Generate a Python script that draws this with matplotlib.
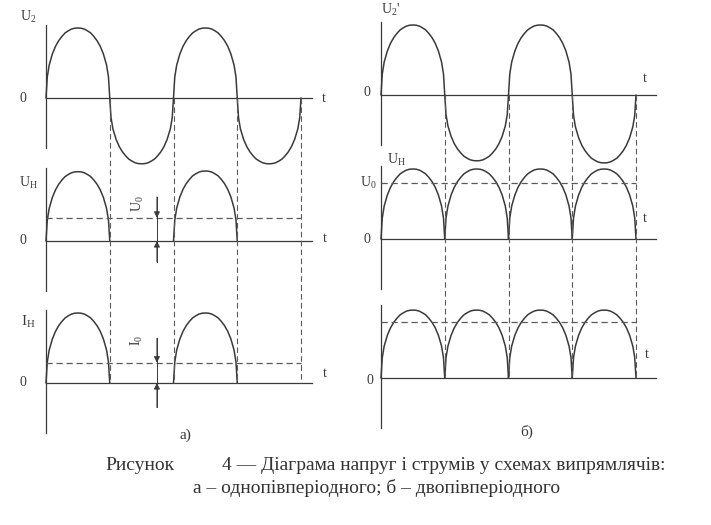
import numpy as np
import matplotlib.pyplot as plt

plt.rcParams['font.family'] = ['Liberation Serif', 'DejaVu Serif']
plt.rcParams['mathtext.fontset'] = 'custom'
plt.rcParams['mathtext.rm'] = 'Liberation Serif'
plt.rcParams['mathtext.it'] = 'Liberation Serif:italic'

# shape of one half-wave (position in half-period, height)
hump_t = [0, 0.02, 0.05, 0.1, 0.15, 0.2, 0.25, 0.3, 0.35, 0.4, 0.45, 0.5,
          0.55, 0.6, 0.65, 0.7, 0.75, 0.8, 0.85, 0.9, 0.95, 0.98, 1.0]
hump_v = [0, 0.30, 0.47, 0.63, 0.74, 0.82, 0.88, 0.93, 0.96, 0.985, 0.997, 1.0,
          0.997, 0.985, 0.96, 0.93, 0.88, 0.82, 0.74, 0.63, 0.47, 0.30, 0]

# half-wave amplitudes (0 = nothing, negative = below axis)
a_u2 = [1.0, -0.94, 1.0, -0.94]        # U2 (left)
a_uh = [0.99, 0, 1.0, 0]               # UH half-wave
a_ih = [1.0, 0, 1.0, 0]                # IH half-wave
b_u2 = [1.0, -0.94, 1.0, -0.97]        # U2' (right)
b_uh = [1.0, 1.0, 1.0, 1.0]            # UH full-wave
b_ih = [0.97, 0.97, 0.97, 0.97]        # IH full-wave

u0_a = 0.33
i0_a = 0.29
u0_b = 0.80
i0_b = 0.80

cap_word = "Рисунок"
caption1 = "4 — Діаграма напруг і струмів у схемах випрямлячів:"
caption2 = "а – однопівперіодного; б – двопівперіодного"

W, H = 711, 525
fig = plt.figure(figsize=(W / 100, H / 100), dpi=100)

lc = '#3a3a3a'
dc = '#5a5a5a'
px = 63.75   # pixels per half period
py = 70.0    # pixels per unit amplitude


def wave(ax, amps, off):
    for k, a in enumerate(amps):
        if a == 0:
            continue
        t = np.array(hump_t) + k
        v = np.array(hump_v) * a + off
        ax.plot(t, v, color=lc, lw=1.1, solid_capstyle='round')


def axes_row(ax, off, xend):
    ax.plot([0, 0], [off - 0.72, off + 1.05], color=lc, lw=0.9)
    ax.plot([0, xend], [off, off], color=lc, lw=0.9)


def arrow(ax, t, lo, hi, tail):
    ax.plot([t, t], [lo - tail, hi + tail], color=lc, lw=0.7)
    ax.annotate('', xy=(t, hi), xytext=(t, hi + tail),
                arrowprops=dict(arrowstyle='-|>', color=lc, lw=0.7,
                                mutation_scale=9, shrinkA=0, shrinkB=0))
    ax.annotate('', xy=(t, lo), xytext=(t, lo - tail),
                arrowprops=dict(arrowstyle='-|>', color=lc, lw=0.7,
                                mutation_scale=9, shrinkA=0, shrinkB=0))


fs = 10

# ---------- a) half-wave ----------
axL = fig.add_axes([0, (H - 450) / H, 355 / W, 450 / H])
axL.set_xlim(-46 / px, (355 - 46) / px)
axL.set_ylim((98 - 450) / py, 98 / py)
axL.axis('off')
offL = [0, (98 - 241) / py, (98 - 383) / py]

for off in offL:
    axes_row(axL, off, 4.18)
wave(axL, a_u2, offL[0])
wave(axL, a_uh, offL[1])
wave(axL, a_ih, offL[2])

for k in [1, 2, 3, 4]:
    axL.plot([k, k], [offL[0], offL[2]], color=dc, lw=0.8, dashes=(5, 3))
axL.plot([0, 4], [offL[1] + u0_a] * 2, color=dc, lw=0.9, dashes=(5, 3))
axL.plot([0, 4], [offL[2] + i0_a] * 2, color=dc, lw=0.9, dashes=(5, 3))

arrow(axL, 1.74, offL[1], offL[1] + u0_a, 0.3)
arrow(axL, 1.74, offL[2], offL[2] + i0_a, 0.35)

axL.text(-0.28, offL[0] + 1.16, r'$\mathrm{U_2}$', fontsize=fs, ha='center', va='center', color=lc)
axL.text(-0.28, offL[1] + 0.83, r'$\mathrm{U_Н}$', fontsize=fs, ha='center', va='center', color=lc)
axL.text(-0.28, offL[2] + 0.87, r'$\mathrm{I_Н}$', fontsize=fs + 1, ha='center', va='center', color=lc)
for off in offL:
    axL.text(-0.36, off, '0', fontsize=fs, ha='center', va='center', color=lc)
axL.text(4.35, offL[0], 't', fontsize=fs, ha='center', va='center', color=lc)
axL.text(4.38, offL[1] + 0.04, 't', fontsize=fs, ha='center', va='center', color=lc)
axL.text(4.38, offL[2] + 0.13, 't', fontsize=fs, ha='center', va='center', color=lc)
axL.text(1.44, offL[1] + 0.54, r'$\mathrm{U_0}$', fontsize=fs, rotation=90, ha='center', va='center', color=lc)
axL.text(1.43, offL[2] + 0.61, r'$\mathrm{I_0}$', fontsize=fs, rotation=90, ha='center', va='center', color=lc)
axL.text(2.18, offL[2] - 0.74, 'а)', fontsize=fs + 1, ha='center', va='center', color=lc)

# ---------- б) full-wave ----------
axR = fig.add_axes([355 / W, (H - 450) / H, (W - 355) / W, 450 / H])
axR.set_xlim((355 - 381) / px, (711 - 381) / px)
axR.set_ylim((95 - 450) / py, 95 / py)
axR.axis('off')
offR = [0, (95 - 239) / py, (95 - 378) / py]

for off in offR:
    axes_row(axR, off, 4.31)
wave(axR, b_u2, offR[0])
wave(axR, b_uh, offR[1])
wave(axR, b_ih, offR[2])

for k in [1, 2, 3, 4]:
    axR.plot([k, k], [offR[0], offR[2]], color=dc, lw=0.8, dashes=(5, 3))
axR.plot([0, 4], [offR[1] + u0_b] * 2, color=dc, lw=0.9, dashes=(5, 3))
axR.plot([0, 4], [offR[2] + i0_b] * 2, color=dc, lw=0.9, dashes=(5, 3))

axR.text(0.15, offR[0] + 1.21, r"$\mathrm{U_2}$'", fontsize=fs, ha='center', va='center', color=lc)
axR.text(0.25, offR[1] + 1.13, r'$\mathrm{U_Н}$', fontsize=fs, ha='center', va='center', color=lc)
axR.text(-0.2, offR[1] + 0.80, r'$\mathrm{U_0}$', fontsize=fs, ha='center', va='center', color=lc)
axR.text(-0.22, offR[0] + 0.03, '0', fontsize=fs, ha='center', va='center', color=lc)
axR.text(-0.22, offR[1] - 0.01, '0', fontsize=fs, ha='center', va='center', color=lc)
axR.text(-0.17, offR[2] - 0.03, '0', fontsize=fs, ha='center', va='center', color=lc)
axR.text(4.14, offR[0] + 0.24, 't', fontsize=fs, ha='center', va='center', color=lc)
axR.text(4.14, offR[1] + 0.30, 't', fontsize=fs, ha='center', va='center', color=lc)
axR.text(4.17, offR[2] + 0.33, 't', fontsize=fs, ha='center', va='center', color=lc)
axR.text(2.29, offR[2] - 0.77, 'б)', fontsize=fs + 1, ha='center', va='center', color=lc)

# caption
fig.text(105 / W, 1 - 466 / H, cap_word, fontsize=14, ha='left', va='center', color='#333333')
fig.text(222 / W, 1 - 466 / H, caption1, fontsize=14, ha='left', va='center', color='#333333')
fig.text(193 / W, 1 - 488 / H, caption2, fontsize=14, ha='left', va='center', color='#333333')

fig.savefig('out.png', dpi=100, facecolor='white')
